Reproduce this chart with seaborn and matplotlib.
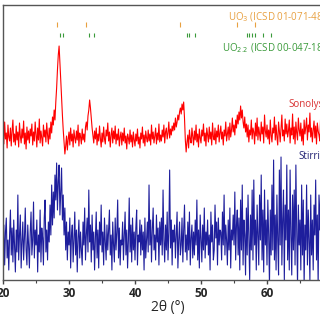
import numpy as np
import pandas as pd
import matplotlib
matplotlib.use("Agg")
import matplotlib.pyplot as plt
import seaborn as sns
from matplotlib.ticker import MultipleLocator

# 2theta grid: 20.000 .. 69.875 step 0.125 (8 points per degree)
two_theta = np.arange(20.0, 70.0, 0.125)

# Sonolysis pattern (offset intensity), one row per degree
sonolysis = [
    150, 136, 158, 141, 147, 132, 155, 143,
    139, 152, 134, 149, 160, 138, 146, 135,
    154, 140, 148, 133, 157, 144, 137, 151,
    142, 159, 136, 147, 131, 153, 140, 149,
    137, 151, 144, 156, 135, 148, 139, 158,
    146, 133, 152, 140, 161, 137, 149, 142,
    134, 155, 143, 150, 138, 157, 145, 136,
    152, 141, 158, 147, 163, 155, 170, 160,
    178, 192, 210, 225, 234, 218, 200, 182,
    165, 150, 138, 126, 134, 144, 130, 141,
    148, 135, 152, 139, 146, 133, 150, 142,
    137, 149, 140, 155, 134, 147, 143, 136,
    151, 140, 146, 138, 153, 158, 150, 164,
    170, 180, 172, 162, 152, 144, 137, 149,
    141, 152, 135, 146, 139, 154, 142, 133,
    147, 138, 153, 141, 136, 150, 144, 157,
    139, 148, 133, 145, 152, 137, 149, 141,
    154, 136, 146, 140, 151, 134, 143, 148,
    135, 147, 139, 152, 137, 144, 131, 146,
    142, 136, 150, 138, 145, 133, 148, 140,
    134, 146, 139, 151, 136, 143, 132, 147,
    141, 153, 137, 145, 134, 149, 142, 138,
    150, 139, 146, 135, 155, 141, 148, 137,
    144, 152, 136, 147, 140, 156, 138, 145,
    139, 150, 143, 155, 137, 148, 152, 141,
    147, 158, 142, 151, 145, 154, 149, 157,
    150, 162, 153, 158, 165, 160, 168, 172,
    166, 176, 170, 178, 162, 140, 128, 138,
    145, 132, 150, 141, 137, 152, 143, 135,
    149, 140, 155, 138, 146, 133, 151, 142,
    137, 150, 144, 156, 139, 147, 134, 152,
    145, 138, 153, 141, 148, 135, 157, 143,
    140, 152, 136, 149, 143, 155, 138, 147,
    154, 141, 148, 135, 150, 144, 158, 139,
    146, 153, 140, 157, 143, 150, 162, 148,
    155, 145, 160, 152, 165, 156, 168, 160,
    174, 162, 170, 158, 152, 163, 148, 156,
    143, 155, 138, 150, 145, 160, 141, 152,
    148, 136, 157, 144, 162, 140, 153, 146,
    139, 158, 146, 153, 137, 165, 149, 143,
    155, 141, 150, 136, 160, 145, 138, 152,
    147, 163, 140, 155, 143, 135, 158, 149,
    138, 152, 165, 144, 150, 139, 161, 146,
    156, 143, 149, 160, 137, 152, 145, 166,
    141, 153, 136, 158, 147, 140, 162, 150,
    144, 157, 139, 151, 135, 160, 146, 153,
    162, 140, 155, 148, 167, 143, 152, 138,
    150, 159, 142, 154, 136, 157, 149, 145,
    139, 163, 147, 152, 141, 158, 144, 155,
    150, 137, 156, 145, 160, 142, 153, 147,
]

# Stirring pattern
stirring = [
    30, 55, 15, 48, 62, 22, 40, 10,
    45, 70, 25, 52, 18, 60, 35, 8,
    50, 28, 85, 20, 45, 65, 12, 38,
    58, 20, 42, 72, 30, 15, 55, 35,
    12, 48, 68, 25, 40, 78, 22, 50,
    35, 60, 8, 45, 28, 70, 18, 52,
    42, 15, 62, 80, 28, 50, 20, 58,
    38, 75, 45, 95, 55, 88, 62, 105,
    80, 117, 70, 98, 115, 65, 90, 112,
    60, 85, 45, 72, 30, 58, 20, 48,
    35, 62, 12, 45, 55, 18, 40, 68,
    25, 50, 8, 42, 60, 22, 48, 30,
    15, 58, 35, 72, 20, 45, 62, 28,
    90, 38, 55, 18, 65, 30, 48, 10,
    42, 68, 22, 50, 12, 58, 35, 75,
    28, 48, 15, 62, 38, 20, 55, 30,
    50, 70, 25, 45, 10, 58, 35, 18,
    62, 30, 48, 80, 22, 52, 15, 40,
    35, 58, 20, 45, 68, 25, 50, 12,
    40, 82, 28, 55, 18, 62, 30, 48,
    20, 52, 70, 15, 45, 38, 60, 25,
    55, 30, 48, 10, 62, 22, 40, 58,
    28, 95, 35, 60, 18, 50, 72, 30,
    45, 20, 65, 38, 52, 15, 58, 35,
    62, 25, 90, 40, 18, 55, 30, 68,
    20, 48, 110, 32, 60, 15, 50, 38,
    55, 22, 45, 68, 12, 40, 58, 25,
    35, 62, 18, 50, 75, 28, 45, 20,
    58, 30, 68, 15, 42, 55, 22, 48,
    25, 60, 35, 80, 20, 50, 12, 65,
    40, 18, 55, 30, 72, 22, 48, 35,
    60, 25, 45, 10, 68, 38, 55, 20,
    30, 75, 42, 58, 15, 62, 35, 50,
    48, 20, 68, 35, 85, 25, 55, 40,
    15, 60, 30, 72, 12, 50, 40, 65,
    35, 88, 20, 55, 70, 25, 62, 10,
    80, 30, 95, 15, 60, 45, 5, 72,
    25, 85, 40, 0, 65, 30, 90, 20,
    100, 35, 60, 10, 75, 45, 15, 85,
    40, 105, 20, 70, 8, 90, 35, 60,
    15, 80, 45, -5, 70, 25, 95, 30,
    120, 20, 65, 10, 85, 40, 5, 110,
    35, 123, 15, 60, 90, 0, 75, 40,
    115, 20, 70, 10, 110, 45, 5, 85,
    30, 90, 15, 115, 50, -5, 75, 35,
    60, 10, 95, 25, 80, -5, 55, 30,
    95, 15, 70, 40, 0, 85, 25, 60,
    10, 75, 45, 100, 20, 65, -5, 85,
    50, 90, 15, 70, -5, 60, 30, 80,
    20, 65, 40, 85, 10, 55, 30, 70,
]

# reference reflections
uo3_peaks = [28.2, 32.6, 46.8, 55.5, 58.2]
uo22_peaks = [28.6, 29.1, 33.0, 33.8, 47.9, 48.2, 49.1, 57.0, 57.3, 57.7, 58.2, 59.4, 60.6]

df = pd.DataFrame({"2theta": two_theta, "Sonolysis": sonolysis, "Stirring": stirring})

sns.set_theme(style="white")
plt.rcParams["font.family"] = ["Open Sans", "DejaVu Sans"]

fig = plt.figure(figsize=(3.2, 3.2), dpi=100)
ax = fig.add_axes([3 / 320, 40 / 320, 330 / 320, 275 / 320])

sns.lineplot(data=df, x="2theta", y="Stirring", ax=ax, color="#1e1e9c", lw=0.8)
sns.lineplot(data=df, x="2theta", y="Sonolysis", ax=ax, color="#ff0000", lw=0.8)

ax.vlines(uo3_peaks, 253, 258, color="#e8a040", lw=0.8)
ax.vlines(uo22_peaks, 243, 247, color="#3a9a3a", lw=0.8)

ax.text(54.1, 263, "UO$_3$ (ICSD 01-071-4821)", color="#e8a040", fontsize=7, va="center")
ax.text(53.2, 232, "UO$_{2.2}$ (ICSD 00-047-1837)", color="#3a9a3a", fontsize=7, va="center")
ax.text(63.2, 175, "Sonolysis", color="#d83030", fontsize=7, va="center")
ax.text(64.7, 123, "Stirring", color="#1c1c70", fontsize=7, va="center")

ax.set_xlim(20, 70)
ax.set_ylim(0, 275)
ax.set_yticks([])
ax.set_ylabel("")
ax.xaxis.set_major_locator(MultipleLocator(10))
ax.xaxis.set_minor_locator(MultipleLocator(5))
ax.tick_params(axis="x", which="major", direction="out", length=3, width=1, color="#444444",
               labelsize=8.5, pad=2, bottom=True)
ax.tick_params(axis="x", which="minor", direction="out", length=2, width=0.8, color="#444444",
               bottom=True)
for lab in ax.get_xticklabels():
    lab.set_fontweight("bold")
ax.set_xlabel("2\u03b8 (\u00b0)", fontsize=10, labelpad=0)
for s in ax.spines.values():
    s.set_color("#555555")
    s.set_linewidth(1.0)

fig.savefig("out.png", dpi=100)
